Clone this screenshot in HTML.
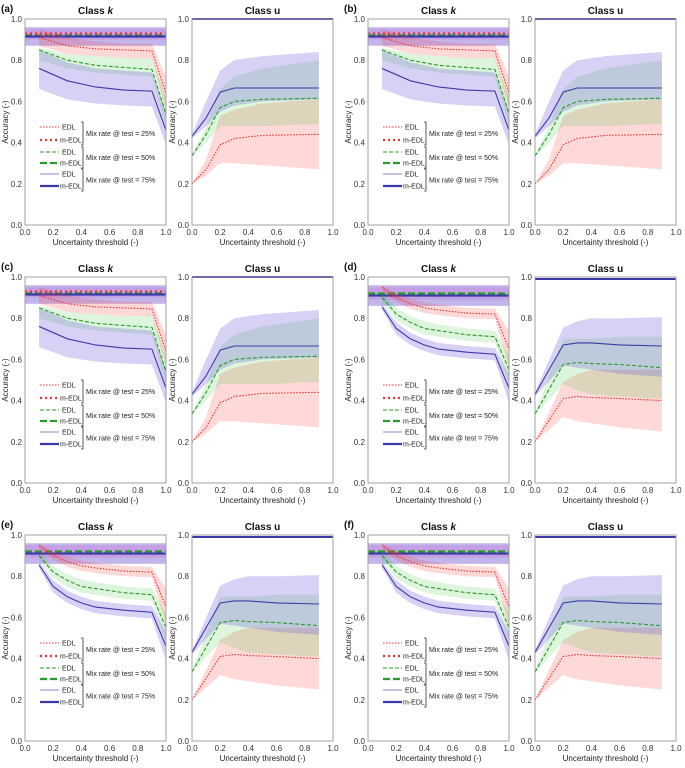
<!DOCTYPE html>
<html><head><meta charset="utf-8"><style>
body{margin:0;background:#fff;}
svg{display:block;font-family:"Liberation Sans",sans-serif;}
</style></head><body>
<svg id="fig" width="685" height="768" viewBox="0 0 685 768"></svg>
<script>
// ---------- data ----------
const panelLabels = ["(a)","(b)","(c)","(d)","(e)","(f)"];
const panelVariant = [0,0,0,1,1,1];
const tickLabels = ["0.0","0.2","0.4","0.6","0.8","1.0"];
const tickValues = [0,0.2,0.4,0.6,0.8,1.0];
const seriesNames = ["25%","50%","75%"];
// Variant 1 (a,b,c) class k
const v1kX = [0.1,0.3,0.5,0.7,0.9,1.0];
const v1kMean = [[0.91,0.87,0.855,0.85,0.845,0.64],[0.85,0.80,0.775,0.765,0.755,0.54],[0.76,0.70,0.67,0.655,0.65,0.46]];
const v1kUp = [[0.95,0.91,0.89,0.88,0.88,0.72],[0.86,0.83,0.82,0.81,0.81,0.62],[0.85,0.79,0.76,0.75,0.74,0.55]];
const v1kLo = [[0.87,0.83,0.82,0.81,0.81,0.56],[0.80,0.76,0.74,0.73,0.72,0.48],[0.66,0.61,0.59,0.58,0.575,0.39]];
const v1kMedl = [0.93,0.92,0.915];
const v1kMedlBand = [0.87,0.96];
// Variant 1 class u
const v1uX = [0,0.1,0.2,0.3,0.5,0.9];
const v1uMean = [[0.2,0.27,0.39,0.42,0.435,0.44],[0.335,0.44,0.57,0.60,0.61,0.615],[0.43,0.52,0.645,0.665,0.665,0.665]];
const v1uUp = [[0.2,0.32,0.53,0.56,0.59,0.61],[0.34,0.48,0.66,0.72,0.76,0.80],[0.44,0.60,0.75,0.80,0.82,0.84]];
const v1uLo = [[0.2,0.24,0.30,0.30,0.29,0.27],[0.33,0.40,0.48,0.48,0.48,0.49],[0.42,0.48,0.55,0.58,0.60,0.61]];
const v1uMedl = 1.0;
// Variant 2 (d,e,f) class k
const v2kX = [0.1,0.2,0.3,0.4,0.5,0.7,0.9,1.0];
const v2kMean = [[0.95,0.90,0.87,0.85,0.84,0.825,0.82,0.65],[0.90,0.82,0.78,0.75,0.74,0.72,0.71,0.55],[0.855,0.75,0.70,0.67,0.65,0.635,0.625,0.46]];
const v2kUp = [[0.96,0.92,0.895,0.875,0.865,0.85,0.845,0.74],[0.92,0.85,0.81,0.785,0.77,0.75,0.74,0.62],[0.87,0.78,0.73,0.70,0.68,0.665,0.655,0.53]];
const v2kLo = [[0.93,0.88,0.845,0.825,0.815,0.80,0.795,0.56],[0.88,0.79,0.75,0.72,0.71,0.69,0.68,0.48],[0.84,0.72,0.67,0.64,0.62,0.605,0.595,0.39]];
const v2kMedl = [0.92,0.92,0.91];
const v2kMedlBand = [0.86,0.96];
// Variant 2 class u
const v2uX = [0,0.2,0.3,0.4,0.6,0.9];
const v2uMean = [[0.2,0.41,0.42,0.415,0.41,0.40],[0.335,0.575,0.585,0.58,0.575,0.56],[0.43,0.67,0.68,0.68,0.67,0.665]];
const v2uUp = [[0.2,0.49,0.53,0.55,0.55,0.55],[0.34,0.70,0.70,0.70,0.71,0.71],[0.44,0.755,0.785,0.80,0.80,0.805]];
const v2uLo = [[0.2,0.32,0.30,0.29,0.27,0.25],[0.33,0.48,0.45,0.43,0.42,0.41],[0.42,0.57,0.56,0.55,0.53,0.515]];
const v2uMedl = 0.99;

// ---------- drawing ----------
const NS="http://www.w3.org/2000/svg";
const svg=document.getElementById('fig');
const W=141,H=206;
const colLeft=[25,368], rowTop=[19,277,535], subOff=167;
const lineCol=["#f03030","#2a9a2a","#3a3aa8"];
const fillCol=["rgba(255,60,60,0.2)","rgba(60,200,60,0.18)","rgba(110,90,220,0.28)"];
const dashEDL=["1.5,1.5","4,2",""];
const dashM=["2,3","7,3",""];
function mk(tag,attrs,parent){const e=document.createElementNS(NS,tag);for(const k in attrs)e.setAttribute(k,attrs[k]);(parent||svg).appendChild(e);return e;}
function txt(s,attrs,parent){const e=mk('text',attrs,parent);e.textContent=s;return e;}

function drawAxisFrame(g,x0,y0,titleMain,titleVar,italic){
  const r=mk('rect',{x:x0,y:y0,width:W,height:H,fill:"none",stroke:"#a0a0a0","stroke-width":1},g);
  
  tickValues.forEach((v,i)=>{
    const yy=y0+H-v*H, xx=x0+v*W;
    const t=txt(tickLabels[i],{x:x0-3,y:yy+3,"text-anchor":"end","font-size":8,fill:"#333"},g);
    
    const t2=txt(tickLabels[i],{x:xx,y:y0+H+10,"text-anchor":"middle","font-size":8,fill:"#333"},g);
    
  });
  const xt=txt("Uncertainty threshold (-)",{x:x0+W/2,y:y0+H+20,"text-anchor":"middle","font-size":8,fill:"#222"},g);
  
  const yt=txt("Accuracy (-)",{x:0,y:0,"text-anchor":"middle","font-size":8,fill:"#222",transform:`translate(${x0-17},${y0+H/2}) rotate(-90)`},g);
  
  const tt=mk('text',{x:x0+W/2,y:y0-5,"text-anchor":"middle","font-size":10,"font-weight":"bold",fill:"#111"},g);
  
  const a=document.createElementNS(NS,'tspan');a.textContent=titleMain;tt.appendChild(a);
  const b=document.createElementNS(NS,'tspan');b.textContent=titleVar;if(italic)b.setAttribute('font-style','italic');tt.appendChild(b);
}
function drawSeries(g,x0,y0,xs,mean,up,lo){
  const X=v=>x0+v*W, Y=v=>y0+H-v*H;
  for(let s=0;s<3;s++){
    let d="M"+xs.map((x,i)=>X(x)+","+Y(up[s][i])).join(" L");
    for(let i=xs.length-1;i>=0;i--) d+=" L"+X(xs[i])+","+Y(lo[s][i]);
    const p=mk('path',{d:d+"Z",fill:fillCol[s],stroke:"none"},g);
    
  }
  for(let s=0;s<3;s++){
    const pl=mk('polyline',{points:xs.map((x,i)=>X(x)+","+Y(mean[s][i])).join(" "),fill:"none",stroke:lineCol[s],"stroke-width":1.1,"stroke-dasharray":dashEDL[s]},g);
    
  }
}
function drawMedlK(g,x0,y0,vals,band){
  const Y=v=>y0+H-v*H;
  const b1=mk('rect',{x:x0,y:Y(band[1]),width:W,height:Y(band[0])-Y(band[1]),fill:"rgba(120,90,210,0.45)"},g);
  
  const b2=mk('rect',{x:x0,y:Y(band[1]-0.01),width:W,height:(Y(band[0]+0.03)-Y(band[1]-0.01)),fill:"rgba(200,80,200,0.2)"},g);
  
  for(let s=0;s<3;s++){
    const l=mk('line',{x1:x0,x2:x0+W,y1:Y(vals[s]),y2:Y(vals[s]),stroke:lineCol[s],"stroke-width":2.2,"stroke-dasharray":dashM[s]},g);
    
  }
}
function drawLegend(g,x0,y0){
  const rows=[108,121,133,144,155,167];
  const labs=["Mix rate @ test = 25%","Mix rate @ test = 50%","Mix rate @ test = 75%"];
  for(let s=0;s<3;s++){
    for(let k=0;k<2;k++){
      const yy=y0+rows[s*2+k];
      const l=mk('line',{x1:x0+15,x2:x0+34,y1:yy,y2:yy,stroke:lineCol[s],"stroke-width":k?2.2:1,"stroke-dasharray":k?dashM[s]:dashEDL[s],opacity:(s==2&&k==0)?0.6:1},g);
      
      const t=txt(k?"m-EDL":"EDL",{x:x0+(k?35:37),y:yy+2.5,"font-size":7,fill:"#222"},g);
      
    }
    const ya=y0+rows[s*2]-5, yb=y0+rows[s*2+1]+5;
    const br=mk('path',{d:`M${x0+56},${ya} L${x0+58},${ya} L${x0+58},${yb} L${x0+56},${yb}`,fill:"none",stroke:"#333","stroke-width":0.8},g);
    
    const t=txt(labs[s],{x:x0+61,y:(ya+yb)/2+2.5,"font-size":7,fill:"#222"},g);
    
  }
}
for(let p=0;p<6;p++){
  const col=p%2,row=Math.floor(p/2),v=panelVariant[p];
  const g=mk('g',{});
  
  
  const xl=colLeft[col], yt=rowTop[row], xr=xl+subOff;
  const lab=txt(panelLabels[p],{x:xl-24,y:yt-7,"font-size":10,"font-weight":"bold",fill:"#111"},g);
  
  drawMedlK(g,xl,yt,v?v2kMedl:v1kMedl,v?v2kMedlBand:v1kMedlBand);
  drawSeries(g,xl,yt,v?v2kX:v1kX,v?v2kMean:v1kMean,v?v2kUp:v1kUp,v?v2kLo:v1kLo);
  drawLegend(g,xl,yt);
  drawAxisFrame(g,xl,yt,"Class ","k",true);
  drawSeries(g,xr,yt,v?v2uX:v1uX,v?v2uMean:v1uMean,v?v2uUp:v1uUp,v?v2uLo:v1uLo);
  const uy=yt+H-(v?v2uMedl:v1uMedl)*H;
  const ul=mk('line',{x1:xr,x2:xr+W,y1:uy,y2:uy,stroke:"#3a3aa8","stroke-width":2},g);
  
  drawAxisFrame(g,xr,yt,"Class ","u",false);
}
</script>
</body></html>
